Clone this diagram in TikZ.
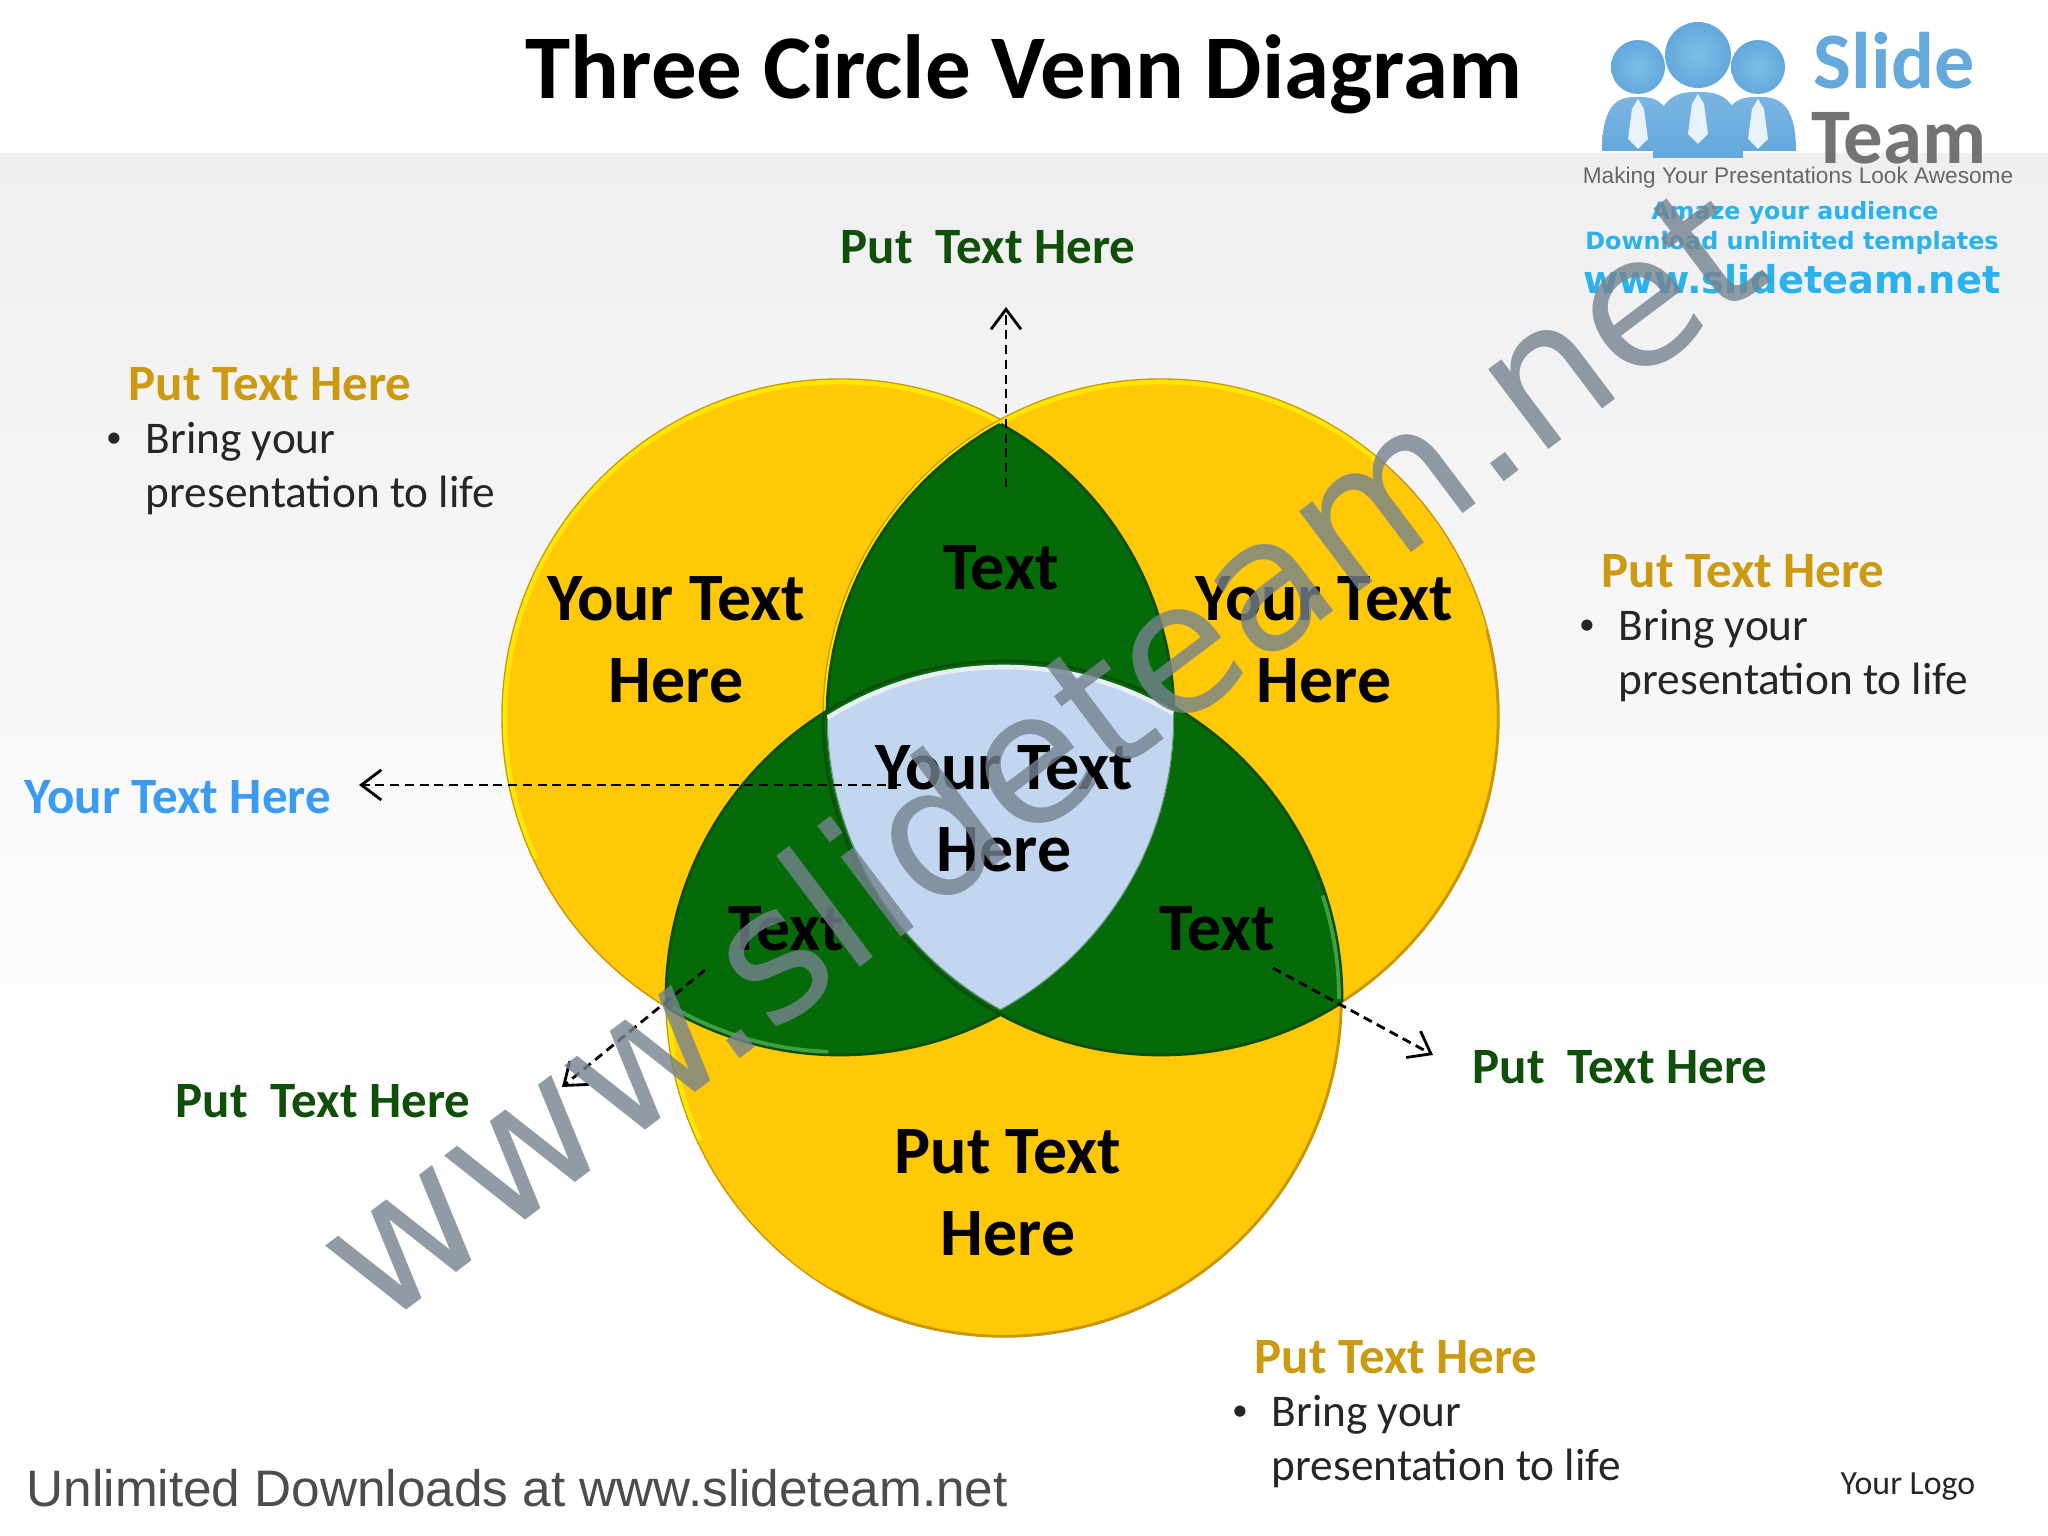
\documentclass[tikz,border=0pt]{standalone}
\usepackage{fontspec}
\setmainfont{Carlito}
\newfontfamily\arialfont{Liberation Sans}
\newfontfamily\dejafont{DejaVu Sans}
\usetikzlibrary{calc,arrows.meta}
\definecolor{gold}{HTML}{FFC907}
\definecolor{goldlight}{HTML}{FFE600}
\definecolor{golddark}{HTML}{C9980A}
\definecolor{lens}{HTML}{056A08}
\definecolor{lensdark}{HTML}{0A4F0C}
\definecolor{lenslight}{HTML}{3FA03F}
\definecolor{core}{HTML}{C3D6F0}
\definecolor{headgold}{HTML}{CC9A10}
\definecolor{putgreen}{HTML}{0F4F0A}
\definecolor{putblue}{HTML}{3A9BF5}
\definecolor{logoblue}{HTML}{64A8DC}
\definecolor{logohead}{HTML}{7CBFE5}
\definecolor{logotext}{HTML}{29B2EC}
\definecolor{mark}{HTML}{75838F}
\definecolor{backtop}{HTML}{EFEFF1}
\begin{document}
\begin{tikzpicture}[x=1cm,y=1cm,
	line/.style={black,thick,dash pattern=on 2.6pt off 1.6pt,-{Straight Barb[length=2mm,width=3mm]}},
	head/.style={font=\fontsize{14.5}{17}\selectfont\bfseries,text=headgold,inner sep=0pt},
	bodytext/.style={font=\fontsize{12.9}{15.4}\selectfont,text=black!85,align=left,anchor=west,inner sep=0pt},
	put/.style={font=\fontsize{14.5}{17}\selectfont\bfseries,text=putgreen,inner sep=0pt},
	inlabel/.style={font=\fontsize{19.3}{23.4}\selectfont\bfseries,align=center,inner sep=0pt},
	ring/.style={fill=gold,draw=golddark,line width=0.4pt}]
	\useasboundingbox (0,0) rectangle (20.48,15.36);
	\fill[white] (0,0) rectangle (20.48,15.36);
	\shade[top color=backtop,bottom color=white] (0,4) rectangle (20.48,13.82);

	%logo
	\foreach \x/\w/\t/\b in {16.38/.36/14.39/13.85,17.58/.38/14.39/13.85,16.98/.45/14.44/13.78} {
		\shade[top color=logoblue!85,bottom color=logoblue] (\x-\w,\b) .. controls (\x-\w,\t) and (\x-.4*\w,\t) .. (\x,\t) .. controls (\x+.4*\w,\t) and (\x+\w,\t) .. (\x+\w,\b) -- cycle;
		\fill[white!85!logoblue] (\x,\t-.02) -- (\x+.06,\t-.12) -- (\x+.1,\t-.42) -- (\x,\t-.52) -- (\x-.1,\t-.42) -- (\x-.06,\t-.12) -- cycle;
	}
	\foreach \x/\y/\r in {16.38/14.69/.27,17.58/14.69/.27,16.98/14.81/.33}
		\shade[inner color=logohead,outer color=logoblue] (\x,\y) circle (\r);
	\node[font=\fontsize{22.8}{24}\selectfont\bfseries,text=logoblue,inner sep=0pt] (slide) at (18.94,14.75) {Slide};
	\node[font=\fontsize{22.4}{24}\selectfont\bfseries,text=black!55,inner sep=0pt] (team) at (18.99,13.98) {Team};
	\node[font=\arialfont\fontsize{6.44}{8}\selectfont,text=black!60,inner sep=0pt] (making) at (17.98,13.58) {Making Your Presentations Look Awesome};
	\node[font=\dejafont\fontsize{6.75}{8}\selectfont\bfseries,text=logotext,inner sep=0pt] (amaze) at (17.95,13.23) {Amaze your audience};
	\node[font=\dejafont\fontsize{6.79}{8}\selectfont\bfseries,text=logotext,inner sep=0pt] (download) at (17.92,12.93) {Download unlimited templates};
	\node[font=\dejafont\fontsize{10.9}{12}\selectfont\bfseries,text=logotext,inner sep=0pt] (site) at (17.92,12.57) {www.slideteam.net};

	\node[font=\fontsize{25.9}{28}\selectfont\bfseries,inner sep=0pt] (title) at (10.24,14.62) {Three Circle Venn Diagram};

	%circles
	\def\rad{3.38}
	\def\radi{3.34}
	\coordinate (cl) at (8.40,8.19);
	\coordinate (cr) at (11.61,8.19);
	\coordinate (cb) at (10.04,5.37);
	\foreach \c in {cb,cl,cr} {
		\draw[ring] (\c) circle (\rad);
		\draw[goldlight,line width=1.3pt] (\c) ++(50:\rad-.03) arc (50:205:\rad-.03);
		\draw[golddark,line width=.7pt] (\c) ++(-120:\rad-.01) arc (-120:15:\rad-.01);
	}

	%lenses
	\foreach \p/\q/\s in {cl/cr/\radi,cl/cb/\rad,cr/cb/\rad} {
		\begin{scope}
			\clip (\p) circle (\s);
			\fill[lens] (\q) circle (\s);
			\draw[lensdark,line width=.8pt] (\q) circle (\s);
		\end{scope}
		\begin{scope}
			\clip (\q) circle (\s);
			\draw[lensdark,line width=.8pt] (\p) circle (\s);
		\end{scope}
	}
	\draw[lenslight,line width=1.1pt] (cl) ++(-92:\rad-.03) arc (-92:-120:\rad-.03);
	\draw[lenslight,line width=1.1pt] (cb) ++(0:\rad-.03) arc (0:18:\rad-.03);

	%center
	\begin{scope}
		\clip (cl) circle (\radi);
		\clip (cr) circle (\radi);
		\fill[core] (cb) circle (3.32);
		\draw[white!60!core,line width=1.3pt] (cb) circle (3.32);
		\clip (cb) circle (3.32);
		\draw[lensdark!50!core,line width=.5pt] (cl) circle (\radi);
		\draw[lensdark!50!core,line width=.5pt] (cr) circle (\radi);
	\end{scope}

	%labels in the circles
	\node[inlabel] (yl) at (6.76,8.96) {Your Text\\Here};
	\node[inlabel] (yr) at (13.24,8.96) {Your Text\\Here};
	\node[inlabel] (yc) at (10.04,7.27) {Your Text\\Here};
	\node[inlabel] (yb) at (10.08,3.43) {Put Text\\Here};
	\node[inlabel] (tt) at (10.01,9.68) {Text};
	\node[inlabel] (tl) at (7.86,6.07) {Text};
	\node[inlabel] (tr) at (12.17,6.07) {Text};

	%outer labels
	\node[put] (putt) at (9.88,12.89) {Put\ \ Text Here};
	\node[put] (putl) at (3.23,4.35) {Put\ \ Text Here};
	\node[put] (putr) at (16.2,4.69) {Put\ \ Text Here};
	\node[put,text=putblue] (putb) at (1.78,7.39) {Your Text Here};
	\foreach \n/\x/\y in {a/1.28/11.52,b/16.01/9.65,c/12.54/1.79} {
		\node[head,anchor=west] (head\n) at (\x,\y) {Put Text Here};
		\node[bodytext] (body\n) at ([xshift=.17cm,yshift=-.85cm]head\n.west) {Bring your\\presentation to life};
		\node[font=\fontsize{9}{10}\selectfont,inner sep=0pt,text=black!85] (bullet\n) at ([xshift=-.31cm,yshift=.29cm]body\n.west) {\textbullet};
	}
	\node[font=\fontsize{9.63}{12}\selectfont,text=black!85,inner sep=0pt] (yourlogo) at (19.08,.49) {Your Logo};
	\node[font=\arialfont\fontsize{14.6}{16}\selectfont,text=black!70,anchor=west,inner sep=0pt] (footer) at (.26,.48) {Unlimited Downloads at www.slideteam.net};

	%arrows
	\coordinate (ts) at (10.06,10.49);
	\coordinate (te) at (10.06,12.29);
	\coordinate (ls) at (9.01,7.51);
	\coordinate (le) at (3.59,7.51);
	\coordinate (bs) at (7.05,5.66);
	\coordinate (be) at (5.62,4.49);
	\coordinate (rs) at (12.73,5.68);
	\coordinate (re) at (14.33,4.81);
	\draw[line] (ts) -- (te);
	\draw[line] (ls) -- (le);
	\draw[line] (bs) -- (be);
	\draw[line] (rs) -- (re);

	\node[font=\dejafont\fontsize{52}{54}\selectfont,text=mark,opacity=.8,rotate=37,inner sep=0pt] (watermark) at (10.36,7.86) {www.slideteam.net};
\end{tikzpicture}
\end{document}
